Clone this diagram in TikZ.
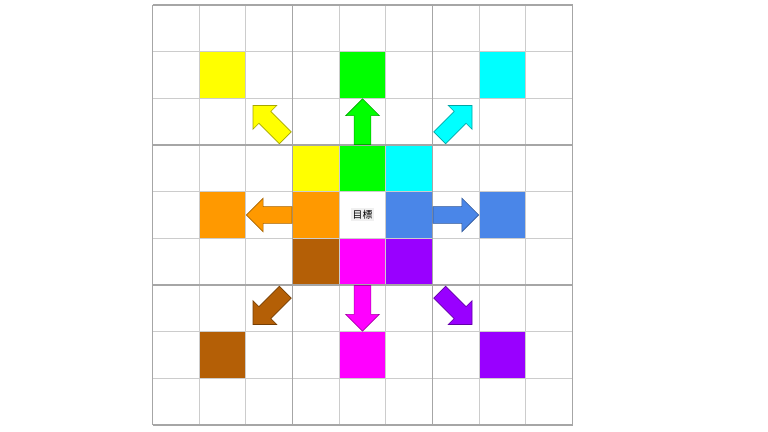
\documentclass[tikz,border=0pt]{standalone}
\usepackage{fontspec}
\newfontfamily\cjk{Noto Sans CJK JP}
\usepackage{xcolor}
\usepackage{tikz}
\definecolor{myyellow}{HTML}{FFFF00}
\definecolor{mygreen}{HTML}{00FF00}
\definecolor{mycyan}{HTML}{00FFFF}
\definecolor{myorange}{HTML}{FF9900}
\definecolor{myblue}{HTML}{4A86E8}
\definecolor{mybrown}{HTML}{B45F06}
\definecolor{mymagenta}{HTML}{FF00FF}
\definecolor{mypurple}{HTML}{9900FF}
\definecolor{thingrid}{HTML}{CCCCCC}
\definecolor{thickgrid}{HTML}{A6A6A6}

\begin{document}
\begin{tikzpicture}[x=1cm,y=1cm,
    cellbox/.style={minimum size=1cm, inner sep=0pt, outer sep=0pt, draw=none}]
    \useasboundingbox (-3.268,-0.15) rectangle (13.189,9.107);
    \fill[white] (-3.268,-0.15) rectangle (13.189,9.107);

    % coloured cells
    \foreach \x/\y/\col/\name in {1.5/7.5/myyellow/ya, 4.5/7.5/mygreen/ga, 7.5/7.5/mycyan/ca,
        3.5/5.5/myyellow/yb, 4.5/5.5/mygreen/gb, 5.5/5.5/mycyan/cb,
        1.5/4.5/myorange/oa, 3.5/4.5/myorange/ob, 5.5/4.5/myblue/bb, 7.5/4.5/myblue/ba,
        3.5/3.5/mybrown/rb, 4.5/3.5/mymagenta/mb, 5.5/3.5/mypurple/pb,
        1.5/1.5/mybrown/ra, 4.5/1.5/mymagenta/ma, 7.5/1.5/mypurple/pa}
        \node[cellbox, fill=\col] (\name) at (\x,\y) {};

    % grid
    \foreach \i in {1,2,4,5,7,8} {
        \draw[thingrid, line width=0.6pt] (\i,0) -- (\i,9);
        \draw[thingrid, line width=0.6pt] (0,\i) -- (9,\i);
    }
    \foreach \i in {0,3,6,9} {
        \draw[thickgrid, line width=1.2pt] (\i,0) -- (\i,9);
        \draw[thickgrid, line width=1.2pt] (0,\i) -- (9,\i);
    }

    % target
    \node[fill=black!6, inner sep=1.2pt, font=\cjk\fontsize{6}{7}\selectfont] (goal) at (4.5,4.5) {目標};

    % arrows
    \foreach \x/\y/\ang/\col in {2.5/6.5/135/myyellow, 4.5/6.5/90/mygreen, 6.5/6.5/45/mycyan,
        2.5/4.5/180/myorange, 6.5/4.5/0/myblue,
        2.5/2.5/225/mybrown, 4.5/2.5/270/mymagenta, 6.5/2.5/315/mypurple}
        \filldraw[fill=\col, draw=\col!65!black, line width=0.4pt, shift={(\x,\y)}, rotate=\ang]
            (-0.49,0.18) -- (0.13,0.18) -- (0.13,0.36) -- (0.49,0) -- (0.13,-0.36)
            -- (0.13,-0.18) -- (-0.49,-0.18) -- cycle;
\end{tikzpicture}
\end{document}
